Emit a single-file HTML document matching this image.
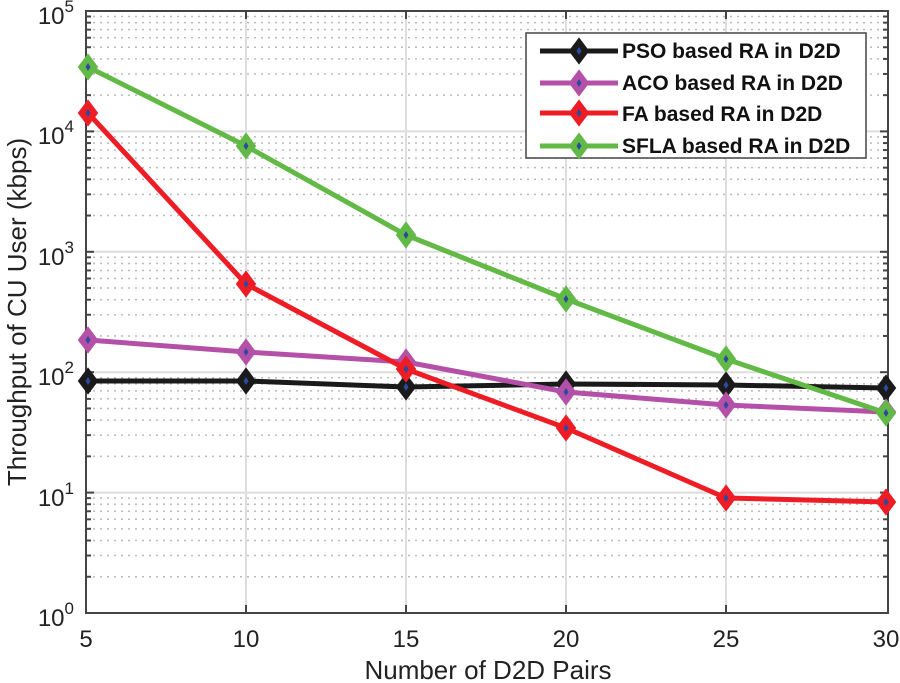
<!DOCTYPE html>
<html><head><meta charset="utf-8"><style>
html,body{margin:0;padding:0;background:#fff;width:900px;height:683px;overflow:hidden}
svg{display:block;font-family:"Liberation Sans",Arial,sans-serif}
</style></head><body>
<svg id="s" width="900" height="683" viewBox="0 0 900 683" xmlns="http://www.w3.org/2000/svg">
<rect x="86" y="11" width="802" height="602" fill="#fff"/>
<g id="grid"></g>
<rect x="86" y="11" width="802" height="602" fill="none" stroke="#444" stroke-width="2"/>
<g id="ticks" stroke="#444" stroke-width="2"></g>
<g id="series"></g>
<g font-size="24" fill="#222" text-anchor="end">
<text x="74" y="626">10<tspan dy="-12" font-size="17">0</tspan></text>
<text x="74" y="506">10<tspan dy="-12" font-size="17">1</tspan></text>
<text x="74" y="385">10<tspan dy="-12" font-size="17">2</tspan></text>
<text x="74" y="265">10<tspan dy="-12" font-size="17">3</tspan></text>
<text x="74" y="144">10<tspan dy="-12" font-size="17">4</tspan></text>
<text x="74" y="24">10<tspan dy="-12" font-size="17">5</tspan></text>
</g>
<g font-size="24" fill="#222" text-anchor="middle">
<text x="86" y="647">5</text><text x="246" y="647">10</text><text x="406" y="647">15</text>
<text x="566" y="647">20</text><text x="726" y="647">25</text><text x="886" y="647">30</text>
</g>
<g font-size="26" fill="#222" text-anchor="middle">
<text x="488" y="679">Number of D2D Pairs</text>
<text transform="translate(26,312) rotate(-90)">Throughput of CU User (kbps)</text>
</g>
<rect x="526" y="33" width="340" height="125" fill="#fff" stroke="#444" stroke-width="1.5"/>
<g id="leg"></g>
<g font-size="21" font-weight="bold" fill="#111">
<text x="622" y="58">PSO based RA in D2D</text>
<text x="622" y="90">ACO based RA in D2D</text>
<text x="622" y="121">FA based RA in D2D</text>
<text x="622" y="153">SFLA based RA in D2D</text>
</g>
</svg>
<script>
var NS="http://www.w3.org/2000/svg";
function el(p,t,a){var e=document.createElementNS(NS,t);for(var k in a)e.setAttribute(k,a[k]);p.appendChild(e);return e;}
var g=document.getElementById('grid'),tk=document.getElementById('ticks');
var L=86,R=888,T=11,B=613,D=120.4;
for(var d=0;d<5;d++){for(var m=2;m<=9;m++){var y=B-D*(d+Math.log10(m));
el(g,'line',{x1:L,x2:R,y1:y,y2:y,stroke:'#bbb','stroke-width':1.5,'stroke-dasharray':'2,5'});
el(tk,'line',{x1:L,x2:L+5,y1:y,y2:y});el(tk,'line',{x1:R,x2:R-5,y1:y,y2:y});}}
for(var d=1;d<5;d++){var y=B-D*d;el(g,'line',{x1:L,x2:R,y1:y,y2:y,stroke:'#ddd','stroke-width':2});
el(tk,'line',{x1:L,x2:L+8,y1:y,y2:y});el(tk,'line',{x1:R,x2:R-8,y1:y,y2:y});}
for(var i=1;i<5;i++){var x=86+160*i;el(g,'line',{x1:x,x2:x,y1:T,y2:B,stroke:'#ddd','stroke-width':2});
el(tk,'line',{x1:x,x2:x,y1:B,y2:B-8});el(tk,'line',{x1:x,x2:x,y1:T,y2:T+8});}
var xs=[88,246,406,566,726,886];
var S=[['#1a1a1a',[381,381,387,384,385,388]],['#b550a8',[340,352,362,392,405,412]],['#ee1c24',[113,284,369,428,498,502]],['#62b946',[67,146,235,299,359,413]]];
var sg=document.getElementById('series'),lg=document.getElementById('leg');
function dia(p,x,y,c){el(p,'polygon',{points:(x)+','+(y-12)+' '+(x+9)+','+y+' '+x+','+(y+12)+' '+(x-9)+','+y,fill:c,stroke:c,'stroke-width':2});
el(p,'polygon',{points:x+','+(y-4)+' '+(x+2.5)+','+y+' '+x+','+(y+4)+' '+(x-2.5)+','+y,fill:'#2b4aa0'});}
S.forEach(function(s,k){var pts=xs.map(function(x,i){return x+','+s[1][i]}).join(' ');
el(sg,'polyline',{points:pts,fill:'none',stroke:s[0],'stroke-width':5,'stroke-linejoin':'round'});
xs.forEach(function(x,i){dia(sg,x,s[1][i],s[0]);});
var ly=[51,83,113,146][k];el(lg,'line',{x1:540,x2:618,y1:ly,y2:ly,stroke:s[0],'stroke-width':5});dia(lg,579,ly,s[0]);});
</script>
</body></html>
